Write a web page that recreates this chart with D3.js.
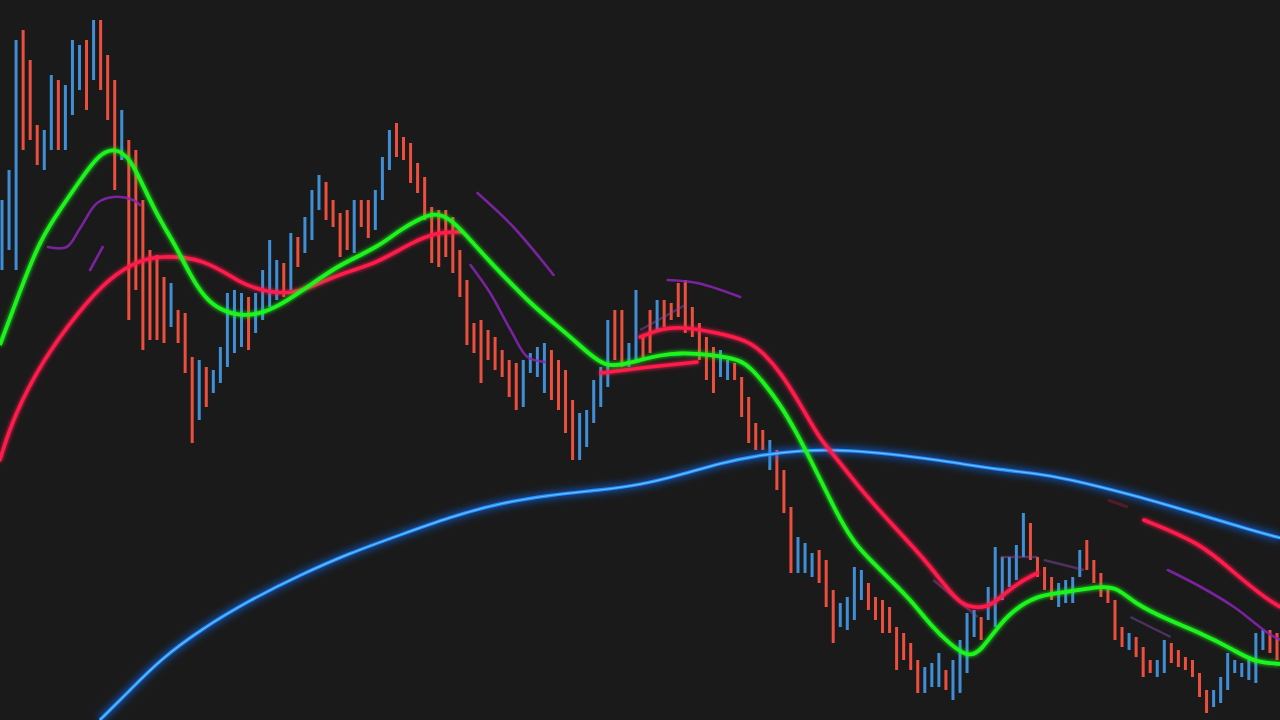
<!DOCTYPE html>
<html><head><meta charset="utf-8">
<script src="https://cdn.jsdelivr.net/npm/d3@7"></script>
<style>html,body{margin:0;background:#1a1a1a;overflow:hidden}</style>
</head>
<body>
<svg id="c" width="1280" height="720"></svg>
<script>
// ---- DATA ----
// bar direction: b = up (blue), r = down (red)
const barDirs = "bbbrrrbbrb" + "bbrbrrrbrr" + "rrrrbrrrbr" + "bbbbbrbbbb" + "rbrbbbrrrr" +
                "brrbbbrrrr" + "rrrrrrrrrr" + "rrrrbbbbrr" + "rrbbbbbrrb" + "brrbrrrrrr" +
                "rrbbrrrrrb" + "rrrbbbrrrb" + "bbbrrrrrrr" + "rbbbrbbbbr" + "bbbbbbrrrr" +
                "bbbbrrrrrr" + "brrrbbrrrr" + "rrbbbbbbbb" + "rr";
const barHigh = [
 152.0,155.0,168.0,169.0,166.0,159.5,159.0,164.5,164.0,163.5,
 168.0,167.5,168.0,170.0,170.0,166.5,164.0,161.0,158.0,157.0,
 152.0,147.0,146.5,144.3,143.7,141.0,140.7,136.3,136.0,135.3,
 135.0,137.3,142.7,143.0,142.7,142.3,142.7,145.0,148.0,146.0,
 145.7,148.7,148.3,150.3,153.0,154.5,153.8,152.0,150.7,151.0,
 152.0,152.0,152.0,153.0,156.3,159.0,159.7,158.3,157.7,155.7,
 154.3,151.3,151.0,151.0,150.3,147.0,144.0,139.7,140.0,139.0,
 138.3,137.0,136.0,135.7,136.0,136.7,137.3,137.7,137.0,136.0,
 135.0,132.0,130.7,131.0,134.0,135.3,140.0,141.0,141.0,137.7,
 143.0,138.3,141.0,142.0,142.0,141.7,143.7,144.0,141.3,139.7,
 138.3,137.3,137.0,136.0,135.7,134.3,132.3,129.7,129.0,128.0,
 127.0,125.0,121.3,118.3,117.7,116.7,117.0,116.0,113.0,111.7,
 112.3,115.3,115.0,113.7,112.3,112.0,111.3,109.3,108.7,107.7,
 106.0,105.3,105.7,106.7,105.0,106.0,108.0,110.7,111.0,110.3,
 113.3,117.3,116.3,116.3,117.5,120.7,119.7,116.3,115.3,114.3,
 113.7,114.0,114.3,117.0,118.0,116.0,114.7,113.3,112.0,109.3,
 108.7,108.3,107.3,106.0,106.0,108.0,107.7,107.0,106.3,106.0,
 104.7,103.0,103.0,104.3,106.7,106.0,105.7,106.0,108.7,109.0,
 109.0,108.7];
const barLow = [
 145.0,147.0,145.0,157.0,158.0,155.5,155.0,157.0,157.0,157.0,
 160.5,163.0,161.0,164.0,163.0,160.0,153.0,156.0,140.0,143.0,
 137.0,138.0,138.0,137.7,139.3,137.7,134.7,127.7,130.0,131.3,
 132.7,133.7,135.3,136.7,137.3,137.0,138.7,140.0,141.3,142.0,
 142.3,143.0,145.3,146.7,148.0,151.0,150.0,149.3,146.3,147.0,
 146.7,149.3,148.2,149.0,152.0,155.0,156.3,156.0,153.7,152.7,
 150.0,145.7,145.3,146.3,144.7,142.3,137.5,136.7,133.7,136.0,
 135.0,134.3,132.3,131.0,131.3,134.7,134.3,132.7,132.0,131.0,
 128.7,126.0,126.0,127.3,129.7,131.3,133.3,136.0,135.3,135.3,
 136.0,136.0,136.7,139.0,139.3,140.0,140.3,138.7,138.3,136.0,
 134.0,132.7,134.3,134.0,134.0,130.3,127.7,127.0,127.0,125.0,
 123.0,120.7,114.7,114.7,114.7,114.3,113.7,111.3,107.7,109.3,
 109.0,110.0,112.0,111.0,110.0,108.7,108.7,105.0,106.0,105.0,
 102.7,102.7,103.3,103.3,103.0,102.0,102.7,104.7,108.3,108.0,
 110.0,109.3,112.0,113.3,114.0,116.3,116.0,114.3,113.0,112.0,
 111.3,111.7,111.7,114.3,115.0,113.7,112.3,111.7,108.0,107.3,
 107.0,106.3,104.3,104.7,104.3,104.7,105.7,105.3,105.0,104.3,
 102.3,100.7,101.3,101.7,103.0,104.7,104.3,104.0,103.7,107.0,
 106.7,106.0];

// moving averages: [bar index, price]
const fastMA = [[-0.3,137.5],[2.6,143.0],[5.4,148.0],[8.2,151.0],[11.1,154.0],[13.9,156.7],[16.1,157.2],
 [18.2,156.2],[20.3,153.0],[22.4,150.0],[24.6,147.5],[26.7,144.5],[28.8,142.2],[31.0,141.0],[33.8,140.4],
 [36.6,140.6],[39.5,141.5],[42.3,142.8],[45.2,144.2],[48.0,145.5],[50.9,146.5],[53.7,147.5],[56.5,149.0],
 [59.4,150.2],[61.5,150.7],[63.6,150.2],[66.5,148.0],[69.3,145.8],[72.2,143.7],[75.0,141.7],[77.8,140.0],
 [80.7,138.3],[83.5,136.5],[85.7,135.4],[87.8,135.5],[90.6,136.0],[93.5,136.5],[96.3,136.7],[99.1,136.6],
 [102.0,136.4],[104.8,136.0],[106.3,135.2],[108.4,133.5],[110.5,131.5],[112.6,129.0],[114.8,126.0],
 [116.9,123.0],[119.0,120.0],[121.2,117.5],[123.3,116.0],[126.1,114.0],[129.0,112.0],[131.8,109.5],
 [134.7,107.5],[137.1,106.3],[138.9,106.8],[141.8,109.8],[144.6,111.5],[147.4,112.5],[151.3,112.8],
 [156.0,113.4],[158.4,113.2],[160.7,111.7],[165.5,110.0],[170.2,108.7],[174.9,107.0],[177.7,105.8],[181.5,105.6]];
const midMA_a = [[-0.3,126.0],[1.6,130.3],[5.8,136.0],[10.7,140.7],[15.3,144.3],[19.6,146.0],[22.4,146.4],
 [28.6,146.2],[33.8,143.7],[36.6,143.0],[40.9,142.5],[45.2,143.7],[48.4,144.7],[53.3,145.7],[58.0,147.7],
 [61.8,148.8],[65.1,148.8]];
const midMA_b = [[85.0,134.7],[90.6,135.2],[98.7,135.8]];
const midMA_c = [[90.6,138.3],[93.9,139.2],[96.7,139.3],[101.0,138.8],[105.8,138.0],[108.1,136.7],
 [110.5,134.8],[113.4,131.5],[116.2,128.0],[118.0,126.6],[121.4,123.5],[125.1,120.5],[130.0,116.8],
 [131.8,115.3],[135.5,112.0],[137.1,111.3],[139.9,111.2],[141.8,112.3],[144.2,113.7],[147.0,114.7]];
const midMA_d = [[162.1,120.0],[170.2,117.7],[174.9,114.7],[179.7,112.0],[181.5,111.3]];
const midMA_e = [[157.0,122.0],[159.8,121.3]];
const slowMA = [[13.9,100.0],[18.2,103.0],[22.4,106.0],[28.1,109.0],[35.2,112.0],[42.3,114.5],[49.4,116.7],
 [56.5,118.5],[63.6,120.3],[70.7,121.7],[77.8,122.5],[85.0,123.0],[90.6,123.5],[96.3,124.5],[102.0,125.7],
 [107.7,126.5],[113.4,127.0],[120.5,127.0],[127.6,126.5],[134.7,125.8],[141.8,125.0],[148.9,124.5],
 [156.0,123.3],[163.1,122.0],[170.2,120.5],[177.3,119.0],[181.5,118.2]];
const purpleSegs = [
 [[6.5,147.3],[9.2,147.3],[11.1,149.2],[13.5,151.7],[15.8,152.3],[18.6,152.0],[19.6,151.5]],
 [[12.5,145.0],[14.3,147.3]],
 [[67.5,152.7],[72.6,149.3],[78.3,144.5]],
 [[66.5,145.5],[69.3,142.7],[72.2,139.0],[74.6,136.3],[77.1,135.8]],
 [[94.5,144.0],[98.7,143.7],[104.8,142.3]],
 [[165.5,115.0],[170.2,113.3],[174.9,111.3],[179.7,108.7],[181.5,108.0]]
];
const faintSegs = [
 [[132.2,114.0],[138.5,110.3]],
 [[147.9,116.0],[153.6,115.0]],
 [[160.2,110.3],[165.9,108.3]],
 [[90.6,139.0],[97.0,141.5]],
 [[141.8,116.3],[147.0,116.3]]
];

// ---- DRAW ----
const W = 1280, H = 720;
const svg = d3.select('#c');
const x = d3.scaleLinear().domain([0, barHigh.length - 1]).range([2, 1277]);
const y = d3.scaleLinear().domain([100, 172]).range([H, 0]);

svg.append('rect').attr('width', W).attr('height', H).attr('fill', '#1a1a1a');

const defs = svg.append('defs');
function blurFilter(id, sd, merge) {
  const f = defs.append('filter').attr('id', id).attr('filterUnits', 'userSpaceOnUse')
    .attr('x', 0).attr('y', 0).attr('width', W).attr('height', H);
  f.append('feGaussianBlur').attr('in', 'SourceGraphic').attr('stdDeviation', sd).attr('result', 'b');
  if (merge) {
    const m = f.append('feMerge');
    m.append('feMergeNode').attr('in', 'b');
    m.append('feMergeNode').attr('in', 'SourceGraphic');
  }
}
blurFilter('glow', 2.2, true);
blurFilter('soft', 0.7, false);
blurFilter('wide', 3.5, false);

// bars
const barData = barHigh.map((h, i) => ({ i, h, l: barLow[i], d: barDirs[i] }));
svg.append('g').attr('filter', 'url(#soft)')
  .selectAll('line').data(barData).enter().append('line')
  .attr('x1', d => x(d.i)).attr('x2', d => x(d.i))
  .attr('y1', d => y(d.h)).attr('y2', d => y(d.l))
  .attr('stroke', d => d.d === 'b' ? '#3f8fd6' : '#ec4f3e')
  .attr('stroke-width', 3);

const line = d3.line().x(d => x(d[0])).y(d => y(d[1])).curve(d3.curveCatmullRom.alpha(0.5));
const smooth = d3.line().x(d => x(d[0])).y(d => y(d[1])).curve(d3.curveBasis);

// faint violet traces
const gp = svg.append('g');
faintSegs.forEach(s => gp.append('path').attr('d', line(s)).attr('fill', 'none')
  .attr('stroke', '#8a4fb0').attr('stroke-opacity', 0.45).attr('stroke-width', 2.5)
  .attr('filter', 'url(#soft)'));
purpleSegs.forEach(s => gp.append('path').attr('d', line(s)).attr('fill', 'none')
  .attr('stroke', '#8a23b5').attr('stroke-opacity', 0.85).attr('stroke-width', 2.6)
  .attr('stroke-linecap', 'round').attr('filter', 'url(#soft)'));

// slow (blue) MA with glow
svg.append('path').attr('d', smooth(slowMA)).attr('fill', 'none')
  .attr('stroke', '#0f6fff').attr('stroke-width', 8).attr('stroke-opacity', 0.55).attr('filter', 'url(#wide)');
svg.append('path').attr('d', smooth(slowMA)).attr('fill', 'none')
  .attr('stroke', '#1e90ff').attr('stroke-width', 3.4);
svg.append('path').attr('d', smooth(slowMA)).attr('fill', 'none')
  .attr('stroke', '#7cc8ff').attr('stroke-width', 1.2).attr('stroke-opacity', 0.8);

// mid (red) MA segments
[midMA_a, midMA_b, midMA_c, midMA_d].forEach(s => svg.append('path').attr('d', smooth(s))
  .attr('fill', 'none').attr('stroke', '#ff1a4b').attr('stroke-width', 3.6)
  .attr('stroke-linecap', 'round').attr('filter', 'url(#glow)'));
svg.append('path').attr('d', line(midMA_e)).attr('fill', 'none')
  .attr('stroke', '#c0203a').attr('stroke-opacity', 0.35).attr('stroke-width', 3).attr('filter', 'url(#soft)');

// fast (green) MA
svg.append('path').attr('d', smooth(fastMA)).attr('fill', 'none')
  .attr('stroke', '#1ef51e').attr('stroke-width', 3.8).attr('filter', 'url(#glow)');
</script>
</body></html>
